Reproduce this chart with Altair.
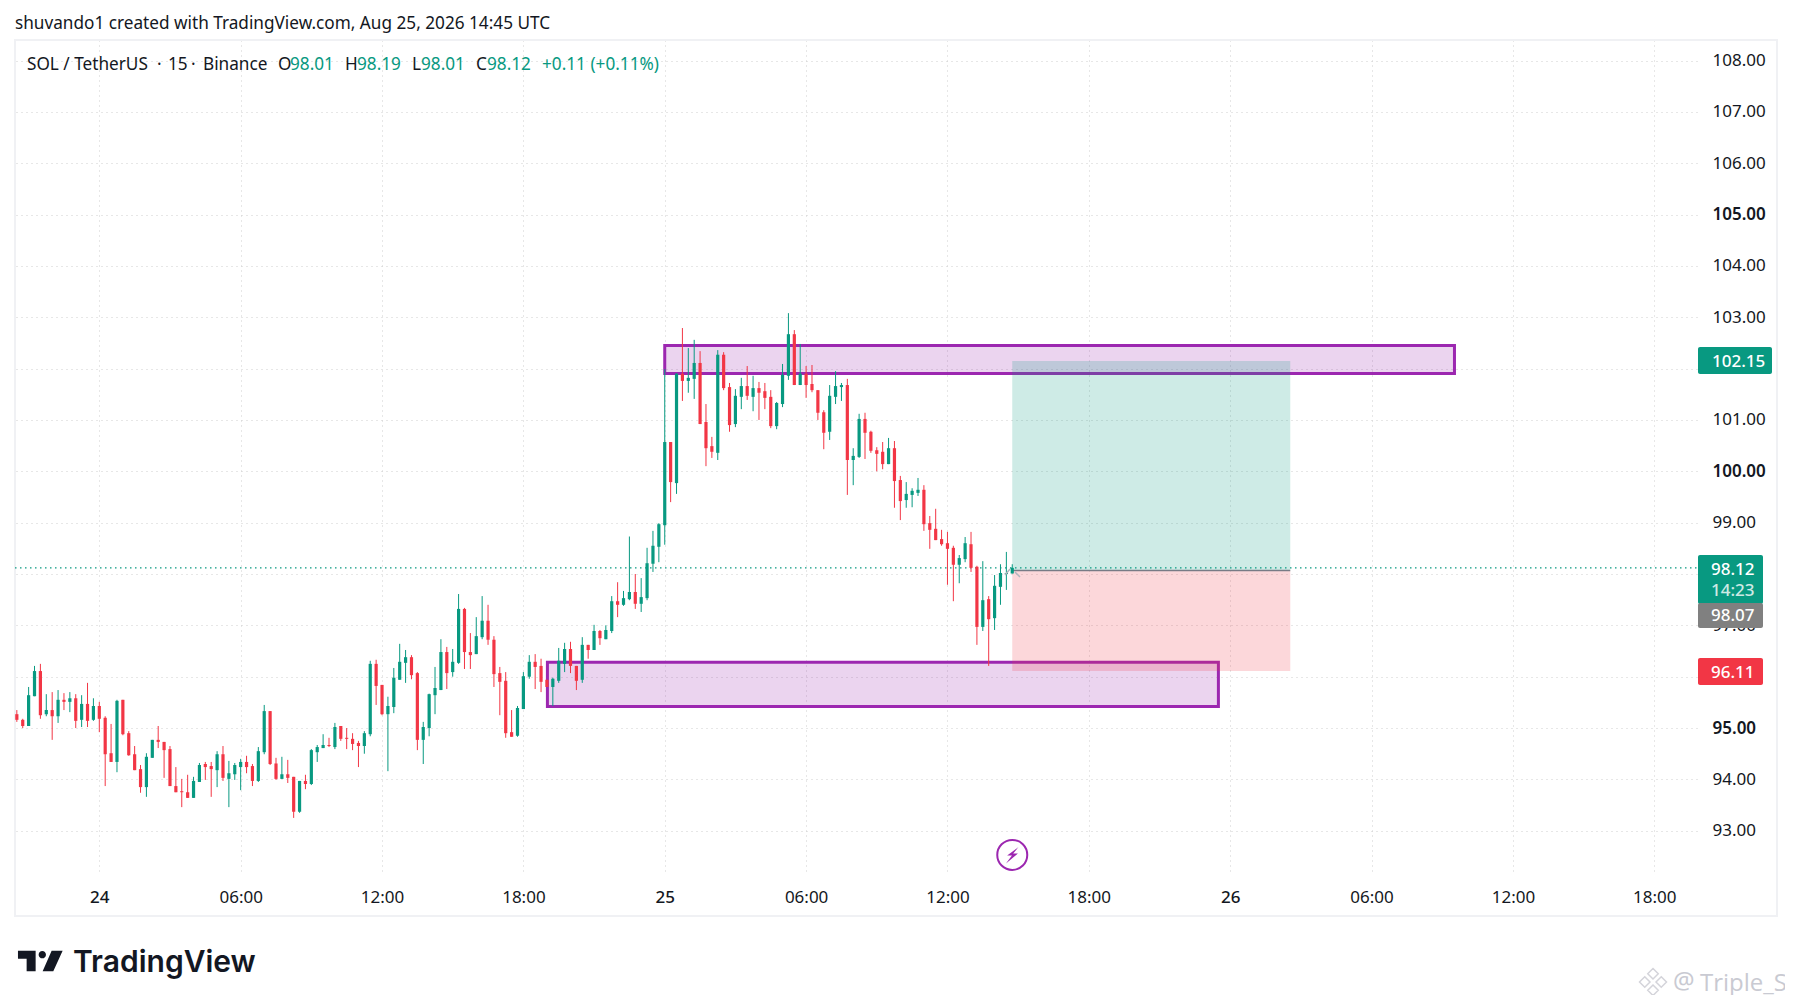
import altair as alt
import pandas as pd

opens = [
    95.27,95.16,95.04,95.62,96.11,95.27,95.35,95.23,95.55,95.51,
    95.58,95.16,95.47,95.16,95.43,95.20,94.51,94.34,95.55,94.90,
    94.49,94.20,93.85,94.42,94.77,94.73,94.59,93.87,93.77,93.75,
    93.64,93.95,94.30,94.26,94.18,94.49,94.01,94.10,94.24,94.34,
    94.26,93.97,94.53,95.33,94.31,94.01,94.10,94.05,93.37,93.97,
    93.91,94.53,94.61,94.67,94.63,95.04,94.81,94.79,94.71,94.65,
    94.88,96.25,95.84,95.27,95.41,95.94,96.27,96.38,96.07,94.77,
    95.00,95.64,95.74,96.48,96.09,96.27,97.32,96.48,96.44,96.77,
    97.09,96.72,96.07,95.92,94.92,94.85,95.37,96.00,96.29,96.21,
    95.94,95.80,95.92,96.25,96.54,96.21,95.94,96.62,96.52,96.89,
    96.73,96.89,97.47,97.40,97.51,97.65,97.42,97.53,98.20,98.53,
    98.95,100.57,99.77,101.90,101.76,101.80,102.11,100.96,100.49,100.36,
    102.27,101.64,100.92,101.45,101.66,101.45,101.62,101.56,101.45,100.88,
    101.31,101.86,102.67,101.68,101.90,101.70,101.58,101.15,100.77,101.45,
    101.64,101.68,100.22,100.28,101.02,100.77,100.41,100.38,100.14,100.45,
    99.83,99.44,99.54,99.58,99.64,98.99,98.88,98.68,98.60,98.51,
    98.18,98.29,98.58,98.14,96.97,97.51,97.14,97.75,98.00,98.01,
]
closes = [
    95.16,95.04,95.64,96.11,95.25,95.35,95.23,95.55,95.51,95.58,
    95.14,95.47,95.14,95.43,95.18,94.49,94.34,95.53,94.88,94.47,
    94.18,93.85,94.44,94.77,94.73,94.57,93.87,93.75,93.75,93.64,
    93.97,94.28,94.24,94.20,94.49,94.03,94.12,94.28,94.34,94.24,
    93.97,94.55,95.33,94.30,94.01,94.10,94.03,93.37,93.97,93.91,
    94.57,94.63,94.67,94.65,95.02,94.79,94.79,94.69,94.65,94.90,
    96.25,95.82,95.27,95.43,95.98,96.29,96.38,96.03,94.77,95.02,
    95.66,95.78,96.48,96.07,96.29,97.32,96.48,96.42,96.79,97.09,
    96.72,96.05,95.90,94.90,94.83,95.39,96.01,96.29,96.19,95.90,
    95.80,95.96,96.31,96.54,96.21,95.92,96.62,96.52,96.89,96.75,
    96.91,97.47,97.40,97.53,97.65,97.42,97.55,98.21,98.55,98.97,
    100.57,99.79,101.90,101.76,101.82,102.11,100.92,100.45,100.38,102.27,
    101.62,100.90,101.47,101.66,101.47,101.62,101.53,101.43,100.88,101.33,
    101.88,102.67,101.68,101.90,101.68,101.58,101.14,100.75,101.47,101.66,
    101.68,100.22,100.30,101.02,100.75,100.40,100.34,100.14,100.45,99.81,
    99.42,99.56,99.62,99.64,98.97,98.86,98.66,98.58,98.49,98.18,
    98.31,98.60,98.12,96.97,97.49,97.12,97.77,98.02,98.02,98.12,
]
highs = [
    95.35,95.18,95.80,96.21,96.25,95.66,95.70,95.74,95.68,95.70,
    95.66,95.64,95.88,95.58,95.51,95.23,95.08,95.55,95.55,94.94,
    94.65,94.28,94.51,94.77,95.04,94.73,94.65,94.24,94.01,94.09,
    94.05,94.32,94.34,94.34,94.55,94.65,94.36,94.32,94.40,94.46,
    94.30,94.63,95.45,95.33,94.42,94.44,94.38,94.05,93.97,94.09,
    94.59,94.67,94.88,94.81,95.10,95.04,95.00,94.90,94.75,94.94,
    96.31,96.33,95.84,95.61,96.17,96.64,96.52,96.42,96.09,95.12,
    95.67,96.19,96.73,96.58,96.54,97.61,97.34,96.85,97.16,97.57,
    97.40,96.79,96.19,96.09,95.35,95.43,96.09,96.42,96.44,96.35,
    95.94,95.98,96.56,96.66,96.68,96.21,96.77,96.62,97.01,96.91,
    97.00,97.57,97.84,97.67,98.73,98.00,97.92,98.51,98.84,98.99,
    101.99,100.57,101.91,102.79,102.40,102.56,102.34,101.31,100.67,102.36,
    102.32,101.72,101.60,101.82,102.05,101.86,101.74,101.72,101.58,101.35,
    102.09,103.08,102.75,102.48,102.05,102.07,101.58,101.19,101.68,101.95,
    101.72,101.80,100.45,101.12,101.14,100.79,100.47,100.57,100.65,100.59,
    99.91,99.79,99.67,99.87,99.73,99.13,99.27,98.86,98.82,98.55,
    98.37,98.72,98.82,98.16,98.25,97.57,97.98,98.19,98.43,98.19,
]
lows = [
    95.12,95.00,95.04,95.62,95.18,95.23,94.77,95.10,95.35,95.31,
    95.00,95.02,95.02,95.14,94.92,93.87,94.34,94.14,94.86,94.46,
    94.18,93.74,93.66,94.42,94.61,94.03,93.87,93.75,93.46,93.64,
    93.64,93.95,93.99,93.66,93.85,93.97,93.46,93.99,93.79,94.12,
    93.87,93.95,94.49,94.28,93.99,94.01,93.93,93.25,93.35,93.81,
    93.89,94.34,94.61,94.63,94.59,94.75,94.59,94.57,94.24,94.50,
    94.84,95.45,95.25,94.16,95.29,95.94,95.88,95.95,94.57,94.30,
    94.84,95.27,95.74,95.76,96.00,96.25,96.15,96.15,96.44,96.73,
    96.62,95.80,95.25,94.81,94.83,94.83,95.37,95.96,95.76,95.70,
    95.80,95.43,95.88,96.09,96.07,95.74,95.88,96.35,96.52,96.62,
    96.73,96.85,97.16,97.38,97.49,97.32,97.26,97.49,98.04,98.23,
    98.57,99.40,99.56,101.37,101.53,101.41,100.92,100.10,100.26,100.22,
    101.58,100.77,100.86,101.21,101.39,101.17,101.00,101.21,100.84,100.82,
    101.25,101.78,101.68,101.68,101.43,101.54,101.00,100.43,100.61,101.31,
    101.37,99.54,99.73,100.26,100.24,100.36,100.00,100.04,100.14,99.29,
    99.05,99.29,99.30,99.52,98.84,98.49,98.66,98.55,97.79,97.47,
    97.82,98.23,98.04,96.62,96.89,96.21,96.91,97.40,97.69,98.01,
]

price_ticks = [93, 94, 95, 96, 97, 98, 99, 100, 101, 102, 103, 104, 105, 106, 107, 108]
time_ticks = [0, 6, 12, 18, 24, 30, 36, 42, 48, 54, 60, 66]
time_labels = ["24", "06:00", "12:00", "18:00", "25", "06:00", "12:00", "18:00", "26", "06:00", "12:00", "18:00"]

last_price = 98.12
entry_price = 98.07
target_price = 102.15
stop_price = 96.11
# zones: start hour, end hour, low price, high price
upper_zone = [24.0, 57.52, 101.905, 102.45]
lower_zone = [19.02, 47.5, 95.42, 96.28]
position_span = [38.75, 50.55]

GREEN = "#089981"
RED = "#F23645"
PURPLE = "#9C27B0"
INK = "#131722"
FONT = "Noto Sans"

# page -> plot coordinates
PL, PT, PR, PB = 15, 40, 1697, 873
def px(v):
    return v - PL
def py(v):
    return v - PT

X_DOMAIN = [(PL - 99.3) / 23.56, (PR - 99.3) / 23.56]
Y_DOMAIN = [100 - (PB - 471.3) / 51.35, 100 + (471.3 - PT) / 51.35]

df = pd.DataFrame({"o": opens, "h": highs, "l": lows, "c": closes})
df["t"] = [(i - 14) / 4 for i in range(len(df))]
df["dir"] = ["up" if c >= o else "down" for o, c in zip(opens, closes)]
df["top"] = df[["o", "c"]].max(axis=1)
df["bot"] = df[["o", "c"]].min(axis=1)

label_expr = "{" + ",".join(f"'{t}':'{l}'" for t, l in zip(time_ticks, time_labels)) + "}[datum.value]"

GRID = dict(grid=True, gridColor="#cfcfcf", gridDash=[1, 4], gridWidth=1,
            domain=False, ticks=False, title=None, labelColor=INK, labelFont=FONT)

x_axis = alt.Axis(values=time_ticks, labelExpr=label_expr, labelPadding=16, labelFontSize=17,
                  labelAngle=0, labelOverlap=False, labelFlush=False, labelBound=False,
                  labelFontWeight={"condition": {"test": "datum.value % 24 === 0", "value": 500}, "value": 400},
                  **GRID)
y_axis = alt.Axis(values=price_ticks, format=".2f", orient="right", labelPadding=15, labelFontSize=17,
                  labelAlign="left", labelOverlap=False, labelBound=False, labelFlush=False,
                  labelFontWeight={"condition": {"test": "datum.value % 5 === 0", "value": 600}, "value": 400},
                  **GRID)
xs = alt.Scale(domain=X_DOMAIN, nice=False, zero=False, padding=0)
ys = alt.Scale(domain=Y_DOMAIN, nice=False, zero=False, padding=0)

def X(f):
    return alt.X(f, type="quantitative", scale=xs, axis=x_axis)
def Y(f):
    return alt.Y(f, type="quantitative", scale=ys, axis=y_axis)

color = alt.Color("dir:N", scale=alt.Scale(domain=["up", "down"], range=[GREEN, RED]), legend=None)

def rows(*cols, names=("a", "b", "lo", "hi")):
    return alt.Data(values=[dict(zip(names, c)) for c in cols])

# frame of the pane
frame = alt.Chart(alt.Data(values=[{}])).mark_rect(fill="#ffffff", fillOpacity=0, stroke="#f0f1f4", strokeWidth=2).encode(
    x=alt.value(px(15)), x2=alt.value(px(1777)), y=alt.value(py(40)), y2=alt.value(py(916)))

# zones
zones = alt.Chart(rows(upper_zone, lower_zone)).mark_rect(
    fill=PURPLE, fillOpacity=0.2, stroke=PURPLE, strokeWidth=3).encode(
    x=X("a"), x2="b:Q", y=Y("lo"), y2="hi:Q")

# position
pos_df = alt.Data(values=[
    {"a": position_span[0], "b": position_span[1], "lo": entry_price, "hi": target_price, "k": "t"},
    {"a": position_span[0], "b": position_span[1], "lo": stop_price, "hi": entry_price, "k": "s"},
])
position = alt.Chart(pos_df).mark_rect(opacity=0.2).encode(
    x=X("a"), x2="b:Q", y=Y("lo"), y2="hi:Q",
    color=alt.Color("k:N", scale=alt.Scale(domain=["t", "s"], range=[GREEN, RED]), legend=None))

entry_line = alt.Chart(alt.Data(values=[{"a": position_span[0], "b": position_span[1], "p": entry_price}])).mark_rule(
    color="#787B86", strokeWidth=1.5).encode(x=X("a"), x2="b:Q", y=Y("p"))

last_line = alt.Chart(alt.Data(values=[{"p": last_price}])).mark_rule(
    color=GREEN, strokeWidth=1.2, strokeDash=[1.5, 3.5]).encode(y=Y("p"), x=alt.value(0), x2=alt.value(PR - PL))

wicks = alt.Chart(df).mark_rule(strokeWidth=1).encode(x=X("t"), y=Y("l"), y2="h:Q", color=color)
bodies = alt.Chart(df).mark_bar(size=3.2, stroke=None).encode(x=X("t"), y=Y("bot"), y2="top:Q", color=color)

# handle near the last candle
handle = alt.Chart(alt.Data(values=[{}])).mark_point(
    shape="M-0.7,0.4L-0.2,-0.2M0.3,0.1L0.8,0.6", filled=False, size=400, stroke="#b2b5be", strokeWidth=1.5, opacity=1
).encode(x=alt.value(px(1012)), y=alt.value(py(571)))

# lightning event mark
event_t, event_p = position_span[0], 92.53
event_ring = alt.Chart(alt.Data(values=[{"t": event_t, "p": event_p}])).mark_point(
    shape="circle", size=900, filled=False, stroke=PURPLE, strokeWidth=2, opacity=1).encode(x=X("t"), y=Y("p"))
event_bolt = alt.Chart(alt.Data(values=[{"t": event_t, "p": event_p}])).mark_point(
    shape="M0.42,-0.52L-0.34,0.04L-0.02,0.04L-0.42,0.58L0.38,-0.1L0.06,-0.1Z", size=900, filled=True,
    fill=PURPLE, strokeWidth=0, opacity=1).encode(x=X("t"), y=Y("p"))

def tag(x0, x1, y0, y1, fill):
    return alt.Chart(alt.Data(values=[{}])).mark_rect(fill=fill, cornerRadius=2).encode(
        x=alt.value(px(x0)), x2=alt.value(px(x1)), y=alt.value(py(y0)), y2=alt.value(py(y1)))

def text(s, x, y, size=17.2, color=INK, weight=400, opacity=1.0, font=FONT):
    return alt.Chart(alt.Data(values=[{"s": s}])).mark_text(
        align="left", baseline="middle", fontSize=size, color=color, fontWeight=weight, opacity=opacity, font=font
    ).encode(text="s:N", x=alt.value(px(x)), y=alt.value(py(y)))

tags = [
    tag(1698, 1772, 347, 374, GREEN),
    tag(1698, 1763, 555, 604, GREEN),
    tag(1698, 1763, 603, 628, "#808080"),
    tag(1698, 1763, 658, 685, RED),
    text(f"{target_price:.2f}", 1712, 362, size=17, color="#ffffff", weight=500),
    text(f"{last_price:.2f}", 1711, 570, size=17, color="#ffffff", weight=500),
    text("14:23", 1711, 591, size=17, color="#ffffff", opacity=0.8, weight=500),
    text(f"{entry_price:.2f}", 1711, 616, size=17, color="#ffffff", weight=500),
    text(f"{stop_price:.2f}", 1711, 673, size=17, color="#ffffff", weight=500),
]

header = [
    text("shuvando1 created with TradingView.com, Aug 25, 2026 14:45 UTC", 15, 24),
    text("SOL / TetherUS", 27, 65), text("·", 157, 65), text("15", 168, 65), text("·", 191, 65), text("Binance", 203, 65),
    text("O", 278, 65), text("98.01", 290, 65, color=GREEN),
    text("H", 345, 65), text("98.19", 357, 65, color=GREEN),
    text("L", 412, 65), text("98.01", 421, 65, color=GREEN),
    text("C", 476, 65), text("98.12", 487, 65, color=GREEN),
    text("+0.11 (+0.11%)", 542, 65, color=GREEN),
]

logo = alt.Chart(alt.Data(values=[{}])).mark_point(
    shape=("M-0.67,-0.31L-0.14,-0.31L-0.14,0.31L-0.41,0.31L-0.41,-0.07L-0.67,-0.07Z"
           "M0.34,-0.31L0.67,-0.31L0.39,0.31L0.07,0.31Z"
           "M-0.05,-0.19A0.11,0.11,0,1,0,0.17,-0.19A0.11,0.11,0,1,0,-0.05,-0.19Z"),
    size=4444, filled=True, fill=INK, strokeWidth=0, opacity=1
).encode(x=alt.value(px(40.3)), y=alt.value(py(961)))
logo_text = text("TradingView", 73, 963, size=30, weight=600, font="Inter")

wm_color = "#c9cad2"
wm_logo = alt.Chart(alt.Data(values=[{}])).mark_point(
    shape=("M0,-0.9L0.35,-0.55L0,-0.2L-0.35,-0.55Z"
           "M-0.55,-0.35L-0.2,0L-0.55,0.35L-0.9,0Z"
           "M0.55,-0.35L0.9,0L0.55,0.35L0.2,0Z"
           "M0,0.2L0.35,0.55L0,0.9L-0.35,0.55Z"),
    size=900, filled=False, stroke="#d4d4da", strokeWidth=1.5, opacity=1
).encode(x=alt.value(px(1653)), y=alt.value(py(982)))
wm = [wm_logo, text("@", 1673, 982, size=24, color=wm_color), text("Triple_S", 1700, 984, size=24, color=wm_color, font="Open Sans")]

layers = [frame, zones, position, entry_line, last_line, wicks, bodies, handle, event_ring, event_bolt] + tags + header + [logo, logo_text] + wm

chart = alt.layer(*layers, data=alt.Data(values=[{}])).properties(
    width=PR - PL,
    height=PB - PT,
    padding={"left": PL - 8, "top": PT - 8, "right": 1785 - PR, "bottom": 995 - PB},
    autosize=alt.AutoSizeParams(type="none"),
    background="#ffffff",
).configure_view(stroke=None)

chart.save("out.html", embed_options={"renderer": "svg", "actions": False})
